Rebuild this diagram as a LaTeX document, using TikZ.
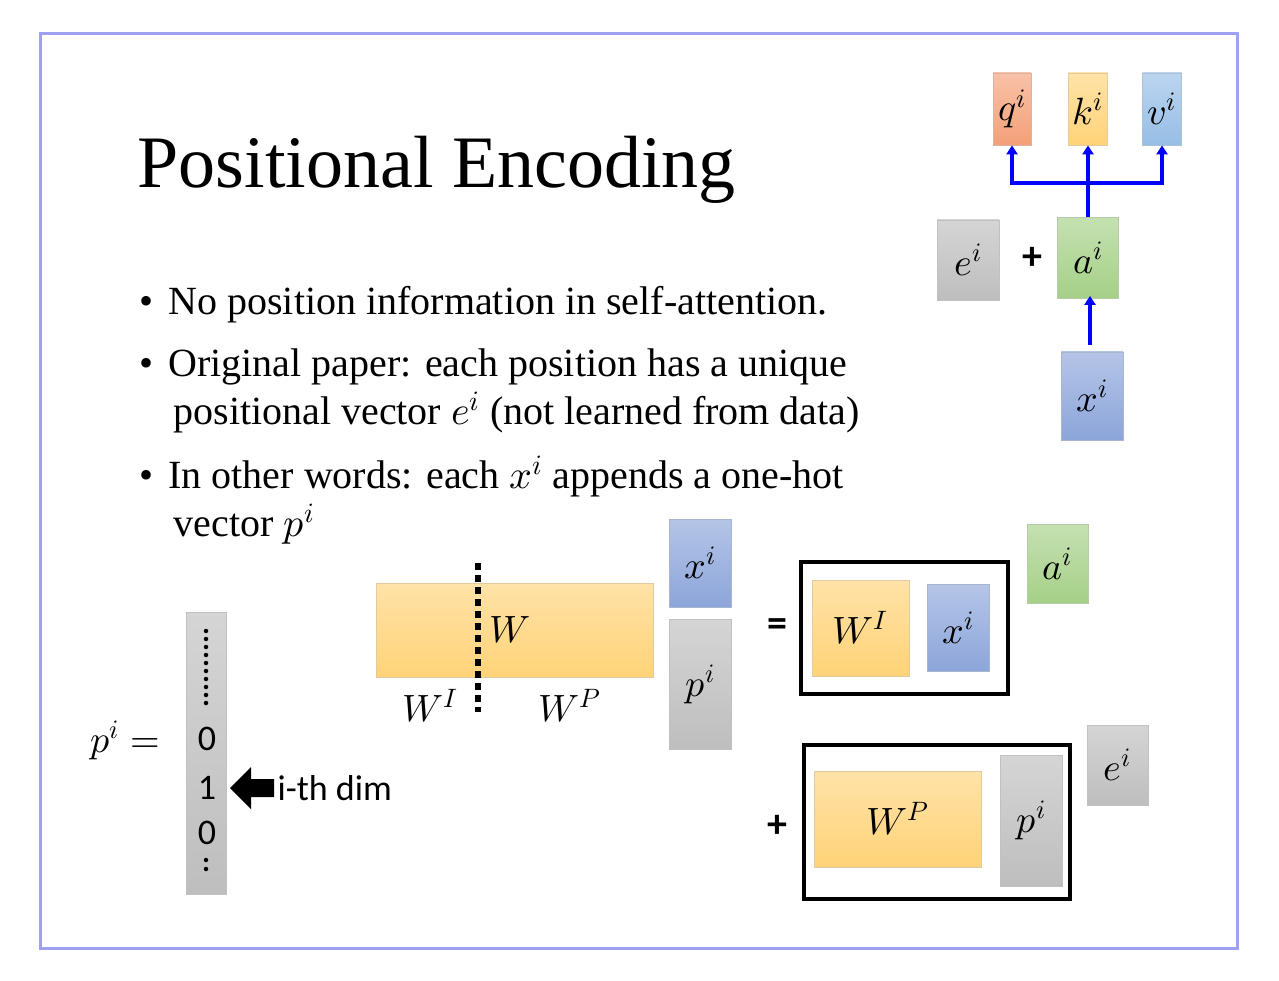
\documentclass[tikz,border=0pt]{standalone}
\usepackage{unicode-math}
\setmainfont{Liberation Serif}
\setmathfont{Latin Modern Math}
\newfontfamily\calfont{Carlito}
\usetikzlibrary{arrows.meta}
\begin{document}
\begin{tikzpicture}[x=1pt,y=-1pt,
 bx/.style={draw=#1!80!black!60, line width=0.8pt, top color=#1!65, bottom color=#1},
 lab/.style={font=\fontsize{38}{38}\selectfont},
 bl/.style={draw=blue, line width=4pt},
 blk/.style={draw=black, line width=4pt},
 op/.style={font=\calfont\bfseries\fontsize{40}{40}\selectfont},
 bt/.style={anchor=west, font=\fontsize{40}{48}\selectfont, align=left}]
\definecolor{qc}{RGB}{244,160,120}
\definecolor{kc}{RGB}{255,211,120}
\definecolor{vc}{RGB}{150,190,230}
\definecolor{ec}{RGB}{190,190,190}
\definecolor{ac}{RGB}{165,208,135}
\definecolor{xc}{RGB}{140,165,218}
\definecolor{fr}{RGB}{160,160,240}
\useasboundingbox (0,0) rectangle (1279,981);
\draw[fr, line width=3pt] (40,34) rectangle (1237,948);
\node[anchor=west, font=\fontsize{74}{74}\selectfont] (title) at (134,170) {Positional Encoding};
% top right
\node[bx=qc, minimum width=38, minimum height=72, lab] (q) at (1012,109) {$q^i$};
\node[bx=kc, minimum width=39, minimum height=72, lab] (k) at (1088,109) {$k^i$};
\node[bx=vc, minimum width=39, minimum height=72, lab] (v) at (1162,109) {$v^i$};
\node[bx=ec, minimum width=62, minimum height=80, lab] (e) at (968,260) {$e^i$};
\node[op] (plus1) at (1032,258) {+};
\node[bx=ac, minimum width=61, minimum height=81, lab] (a) at (1088,258) {$a^i$};
\node[bx=xc, minimum width=62, minimum height=88, lab] (x) at (1092,396) {$x^i$};
\coordinate (j) at (1088,183);
\draw[bl] (a.north) -- (j);
\draw[bl,-{Triangle[length=9pt,width=11pt]}] (j) -| (q.south);
\draw[bl,-{Triangle[length=9pt,width=11pt]}] (j) -- (k.south);
\draw[bl,-{Triangle[length=9pt,width=11pt]}] (j) -| (v.south);
\coordinate (xs) at (1090,345);
\draw[bl,-{Triangle[length=9pt,width=11pt]}] (xs) -- ([yshift=3]a.south -| xs);
% bullets
\node[bt] (b1) at (136,305) {•\hspace{15pt}No position information in self-attention.};
\node[bt] (b2) at (136,391) {•\hspace{15pt}Original paper: each position has a unique\\\hspace{34pt}positional vector $e^i$ (not learned from data)};
\node[bt] (b3) at (136,500) {•\hspace{15pt}In other words: each $x^i$ appends a one-hot\\\hspace{34pt}vector $p^i$};
% W matrix
\node[bx=kc, minimum width=277, minimum height=94] (W) at (514.5,630) {};
\node[lab] (Wl) at (510,630) {$W$};
\coordinate (d1) at (478,563); \coordinate (d2) at (478,712);
\draw[black, line width=6pt, dash pattern=on 7pt off 5pt] (d1) -- (d2);
\node[lab] (WI) at (430,706) {$W^I$};
\node[lab] (WP) at (570,706) {$W^P$};
\node[bx=xc, minimum width=62, minimum height=88, lab] (x2) at (700,563) {$x^i$};
\node[bx=ec, minimum width=62, minimum height=130, lab] (p2) at (700,684) {$p^i$};
\node[op] (eq) at (777,628) {=};
\node[blk, minimum width=207, minimum height=132] (B1) at (904.5,628) {};
\node[bx=kc, minimum width=97, minimum height=96, lab] (W3) at (860.5,628) {$W^I$};
\node[bx=xc, minimum width=62, minimum height=87, lab] (x3) at (958,628) {$x^i$};
\node[bx=ac, minimum width=61, minimum height=79, lab] (a2) at (1057.5,564) {$a^i$};
\node[op] (pl2) at (777,826) {+};
\node[blk, minimum width=266, minimum height=154] (B2) at (937,822) {};
\node[bx=kc, minimum width=167, minimum height=96, lab] (W4) at (897.5,819) {$W^P$};
\node[bx=ec, minimum width=62, minimum height=131, lab] (p4) at (1031,820.5) {$p^i$};
\node[bx=ec, minimum width=61, minimum height=80, lab] (e2) at (1117.5,765) {$e^i$};
% p vector
\node[bx=ec, minimum width=40, minimum height=282] (pv) at (206,753) {};
\draw[black, line width=4.5pt, line cap=round, dash pattern=on 0pt off 8pt] (206,631) -- (206,703);
\node[font=\calfont\fontsize{36}{36}\selectfont] (z1) at (207,739) {0};
\node[font=\calfont\fontsize{36}{36}\selectfont] (o1) at (207,788) {1};
\node[font=\calfont\fontsize{36}{36}\selectfont] (z2) at (207,833) {0};
\draw[black, line width=4.5pt, line cap=round, dash pattern=on 0pt off 9pt] (206,860) -- (206,878);
\node[lab] (peq) at (125,740) {$p^i=$};
\node[anchor=west, font=\calfont\fontsize{36}{36}\selectfont] (dim) at (274,788) {i-th dim};
\fill[black] (274,779) -- (251,779) -- (251,767) -- (230,788) -- (251,809) -- (251,797) -- (274,797) -- cycle;
\end{tikzpicture}
\end{document}
